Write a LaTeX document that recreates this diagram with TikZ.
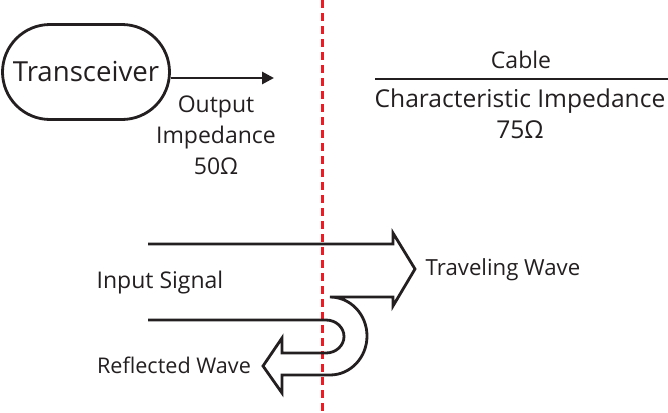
\documentclass[tikz,border=0pt]{standalone}
\usepackage{fontspec}
\setmainfont{Open Sans}
\usetikzlibrary{arrows.meta,positioning,shapes.misc}
\definecolor{boundred}{RGB}{237,28,36}
\definecolor{inkgray}{RGB}{35,31,32}

\begin{document}
\begin{tikzpicture}[
    x=0.5pt, y=-0.5pt,
    every node/.style={font=\fontsize{11.5}{15.5}\selectfont, align=center, text=inkgray},
    outl/.style={line width=1.4pt, draw=inkgray, line join=miter},
    arr/.style={-{Triangle[length=6pt, width=6pt]}, line width=1.4pt, draw=inkgray}
]
\useasboundingbox (0,0) rectangle (668,412);
\node (trx) [rounded rectangle, draw=inkgray, line width=1.4pt, minimum width=83.5pt, minimum height=47.5pt, inner sep=0pt, font=\fontsize{13.8}{16}\selectfont] at (86,72) {Transceiver};
\coordinate (outend) at (274,78);
\draw[arr] (trx.east |- outend) -- (outend);
\node (zout) at (216,135) {Output\\Impedance\\50Ω};
\coordinate (cabl) at (375,79);
\coordinate (cabr) at (668,79);
\draw[outl] (cabl) -- (cabr);
\node (cable) at (521,60) {Cable};
\node (zchar) [font=\fontsize{12.3}{15.5}\selectfont] at (520,114) {Characteristic Impedance\\75Ω};
\draw[boundred, line width=1.5pt, dash pattern=on 4pt off 2.5pt] (322,0) -- (322,412);
\draw[outl] (148,244) -- (393,244) -- (393,233) -- (415,269) -- (393,306) -- (393,297) -- (330,297)
    arc[start angle=90, end angle=-90, x radius=18.5pt, y radius=19.5pt]
    -- (282,375) -- (282,393) -- (263,366) -- (282,338) -- (282,353) -- (326,353)
    arc[start angle=-90, end angle=90, x radius=9pt, y radius=8.25pt]
    -- (148,320);
\node (insig) at (160,283) {Input Signal};
\node (trav) [font=\fontsize{11.1}{15.5}\selectfont] at (503,270) {Traveling Wave};
\node (refl) [font=\fontsize{10.8}{15.5}\selectfont] at (174,365) {Reflected Wave};
\end{tikzpicture}
\end{document}
